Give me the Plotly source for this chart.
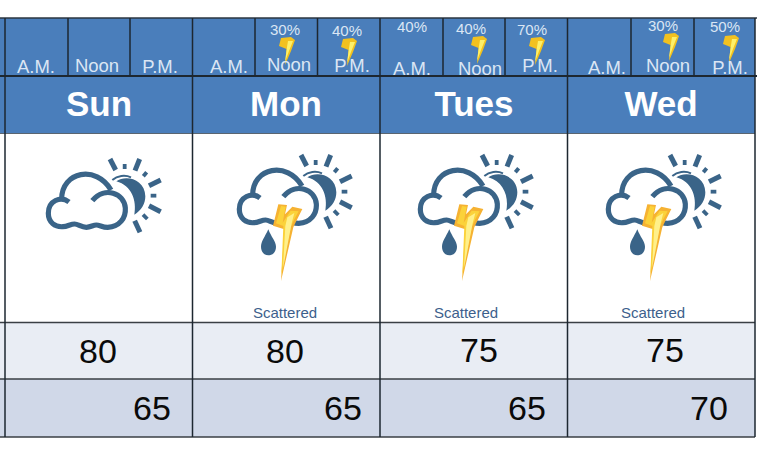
import plotly.graph_objects as go

days = ["Sun", "Mon", "Tues", "Wed"]
high_temps = [80, 80, 75, 75]
low_temps = [65, 65, 65, 70]
slot_names = ["A.M.", "Noon", "P.M."]
precip_chance = [[None, None, None], [None, 30, 40], [40, 40, 70], [None, 30, 50]]
condition = [None, "Scattered", "Scattered", "Scattered"]

# ---- layout (pixel-like axes) ----
W, H = 776, 449
major = [5, 192.5, 380, 567.5, 755]
minor = [68, 130, 255, 317.5, 443, 505, 631, 694]
Y_TOP, Y_SUB, Y_HEAD, Y_BODY, Y_R1, Y_R2 = 18, 76, 133.5, 322.5, 379, 437

header_xy = [(99, 107.5), (286, 107.5), (474, 107.5), (661, 107.5)]
high_xy = [(98, 354), (285, 354), (479, 353), (665, 353)]
low_xy = [(152, 411), (343, 411), (527, 411), (709, 411)]
cond_xy = [None, (285, 314), (466, 314), (653, 314)]
slot_xy = [[(36, 68.5), (97, 67), (160, 68.5)], [(229, 68.5), (289, 66), (352, 67.5)],
           [(412, 70.5), (480, 70), (540, 67)], [(607, 69.5), (668, 67), (730, 69.5)]]
pct_xy = [[None] * 3, [None, (285, 31), (347, 32)], [(412, 28), (471, 30), (532, 31)],
          [None, (663, 27), (725, 28)]]
bolt_xy = [[None] * 3, [None, (282, 38), (344, 39)], [None, (474, 37), (532, 38)],
           [None, (666, 34), (726, 36)]]
icon_off = [(-191, 4), (0, 0), (181, 0), (369, 0)]

BLUE = "#4a7ebb"
LINE = "#1d2730"
ICON = "#3a6488"

shapes = []


def rect(x0, y0, x1, y1, fill):
    shapes.append(dict(type="rect", x0=x0, y0=y0, x1=x1, y1=y1, fillcolor=fill,
                       line_width=0, layer="below"))


def line(x0, y0, x1, y1, color=LINE, width=1.5):
    shapes.append(dict(type="line", x0=x0, y0=y0, x1=x1, y1=y1,
                       line=dict(color=color, width=width), layer="below"))


def zpath(cmds, ox, oy):
    """cmds: list of (letter, [x,y,...]) in 3x zoom coordinates."""
    out = []
    for c, pts in cmds:
        xy = []
        for i in range(0, len(pts), 2):
            xy.append(f"{200 + pts[i] / 3 + ox:.2f},{140 + pts[i + 1] / 3 + oy:.2f}")
        out.append(c + " " + " ".join(xy))
    return " ".join(out)


def stroke(cmds, ox, oy, w, color=ICON):
    shapes.append(dict(type="path", path=zpath(cmds, ox, oy), line=dict(color=color, width=w),
                       fillcolor="rgba(0,0,0,0)", layer="below"))


def fill(cmds, ox, oy, color, close=True):
    p = zpath(cmds, ox, oy) + (" Z" if close else "")
    shapes.append(dict(type="path", path=p, line_width=0, fillcolor=color, layer="below"))


def poly(pts):
    return [("M", list(pts[0]))] + [("L", list(p)) for p in pts[1:]]


CLOUD = [("M", [180, 174]), ("C", [155, 155, 118, 170, 118, 208]),
         ("C", [118, 235, 138, 250, 162, 248]), ("C", [175, 248, 185, 240, 197, 240]),
         ("C", [207, 240, 217, 250, 232, 250]), ("C", [245, 250, 252, 243, 262, 243]),
         ("C", [272, 243, 280, 250, 296, 250]), ("C", [332, 248, 351, 222, 349, 192]),
         ("C", [345, 148, 288, 125, 250, 170])]
CLOUD_TOP = [("M", [158, 165]), ("C", [158, 82, 262, 62, 306, 138])]
CRESCENT = [("M", [322, 112]), ("C", [350, 92, 408, 105, 409, 157]),
            ("C", [409, 180, 397, 200, 376, 212]), ("C", [384, 170, 368, 125, 322, 112])]
SUN_ARC = [("M", [310, 108]), ("C", [325, 95, 348, 92, 366, 100])]
RAYS_THICK = [(303, 45, 320, 78), (392, 45, 378, 80), (455, 108, 420, 125),
              (420, 185, 455, 203), (377, 230, 393, 265)]
RAYS_THIN = [(347, 60, 347, 75), (413, 85, 403, 97), (425, 155, 442, 155), (402, 212, 415, 225)]
DROP = [("M", [205, 268]), ("C", [195, 290, 183, 305, 183, 320]), ("C", [183, 337, 195, 346, 205, 346]),
        ("C", [217, 346, 228, 337, 228, 320]), ("C", [228, 305, 213, 290, 205, 268])]
# main bolt, in the same zoom coordinates
BOLT_OUT = [(235, 193), (261, 195), (255, 223), (277, 200), (307, 207), (289, 243), (280, 262),
            (243, 423), (253, 268), (219, 257)]
BOLT_MID = [(243, 198), (257, 200), (248, 248), (272, 212), (296, 214), (283, 238), (272, 262),
            (244, 405), (250, 258), (228, 250)]
BOLT_HI = [(262, 232), (283, 219), (275, 250), (249, 385), (256, 258)]


def draw_icon(ox, oy, storm):
    stroke(CLOUD, ox, oy, 5.2)
    stroke(CLOUD_TOP, ox, oy, 5.2)
    fill(CRESCENT, ox, oy, ICON)
    stroke(SUN_ARC, ox, oy, 2)
    for r in RAYS_THICK:
        stroke([("M", [r[0], r[1]]), ("L", [r[2], r[3]])], ox, oy, 5)
    for r in RAYS_THIN:
        stroke([("M", [r[0], r[1]]), ("L", [r[2], r[3]])], ox, oy, 3.8)
    if storm:
        fill(DROP, ox, oy, ICON)
        fill(poly(BOLT_OUT), ox, oy, "#f6b232")
        fill(poly(BOLT_MID), ox, oy, "#fbd23a")
        fill(poly(BOLT_HI), ox, oy, "#fff08a")


def small_bolt(ax, ay):
    def pts(rel):
        return "M " + " L ".join(f"{ax + a:.1f},{ay + b:.1f}" for a, b in rel) + " Z"
    shapes.append(dict(type="path", path=pts([(-1, 0), (9, -1), (13, 2), (9, 13), (3, 27), (4.5, 11), (-3, 8)]),
                       line_width=0, fillcolor="#f2c11f", layer="below"))
    shapes.append(dict(type="path", path=pts([(6, 3), (11, 3), (7, 13), (3, 24), (5, 9)]),
                       line_width=0, fillcolor="#fdf06a", layer="below"))


# fills
rect(0, Y_TOP, major[-1], Y_SUB, BLUE)
rect(0, Y_SUB, major[-1], Y_HEAD, BLUE)
rect(0, Y_BODY, major[-1], Y_R1, "#e9edf4")
rect(0, Y_R1, major[-1], Y_R2, "#d0d8e8")

# icons
for i, (ox, oy) in enumerate(icon_off):
    draw_icon(ox, oy, condition[i] is not None)
    for b in bolt_xy[i]:
        if b:
            small_bolt(*b)

# grid
line(0, Y_TOP, 757, Y_TOP, "#2b3640", 1.5)
line(0, Y_SUB, 757, Y_SUB, "#1d2730", 2.2)
line(0, Y_HEAD, major[-1], Y_HEAD, "#5a6570", 1.2)
line(0, Y_BODY, major[-1], Y_BODY, "#3a3f44", 1.5)
line(0, Y_R1, major[-1], Y_R1, "#3a3f44", 1.5)
line(0, Y_R2, major[-1], Y_R2, "#3a3f44", 1.5)
for x in major:
    line(x, Y_TOP, x, Y_R2)
for x in minor:
    line(x, Y_TOP, x, Y_SUB)

fig = go.Figure()


def text(xy, labels, size, color, bold=False):
    fam = "Liberation Sans"
    fig.add_trace(go.Scatter(
        x=[p[0] for p in xy], y=[p[1] for p in xy], text=labels, mode="text",
        textposition="middle center", hoverinfo="skip", showlegend=False,
        textfont=dict(family=fam, size=size, color=color, weight="bold" if bold else "normal")))


text(header_xy, days, 35, "#ffffff", True)
text(high_xy, [str(v) for v in high_temps], 34, "#0a0a0a")
text(low_xy, [str(v) for v in low_temps], 34, "#0a0a0a")
cx, cl = [], []
for p, c in zip(cond_xy, condition):
    if c:
        cx.append(p)
        cl.append(c)
text(cx, cl, 15, "#3d5f8c")
sx, sl, px_, pl = [], [], [], []
for d in range(4):
    for s in range(3):
        sx.append(slot_xy[d][s])
        sl.append(slot_names[s])
        if precip_chance[d][s] is not None:
            px_.append(pct_xy[d][s])
            pl.append(f"{precip_chance[d][s]}%")
text(sx, sl, 18.5, "#dbe6f4")
text(px_, pl, 15, "#dbe6f4")

fig.update_layout(
    width=W, height=H, margin=dict(l=0, r=0, t=0, b=0), autosize=False,
    paper_bgcolor="white", plot_bgcolor="rgba(0,0,0,0)", shapes=shapes, showlegend=False,
    xaxis=dict(range=[0, W], visible=False, fixedrange=True),
    yaxis=dict(range=[H, 0], visible=False, fixedrange=True),
)
fig.write_html("out.html", config=dict(displayModeBar=False),
               post_script="document.body.style.margin='0';")
